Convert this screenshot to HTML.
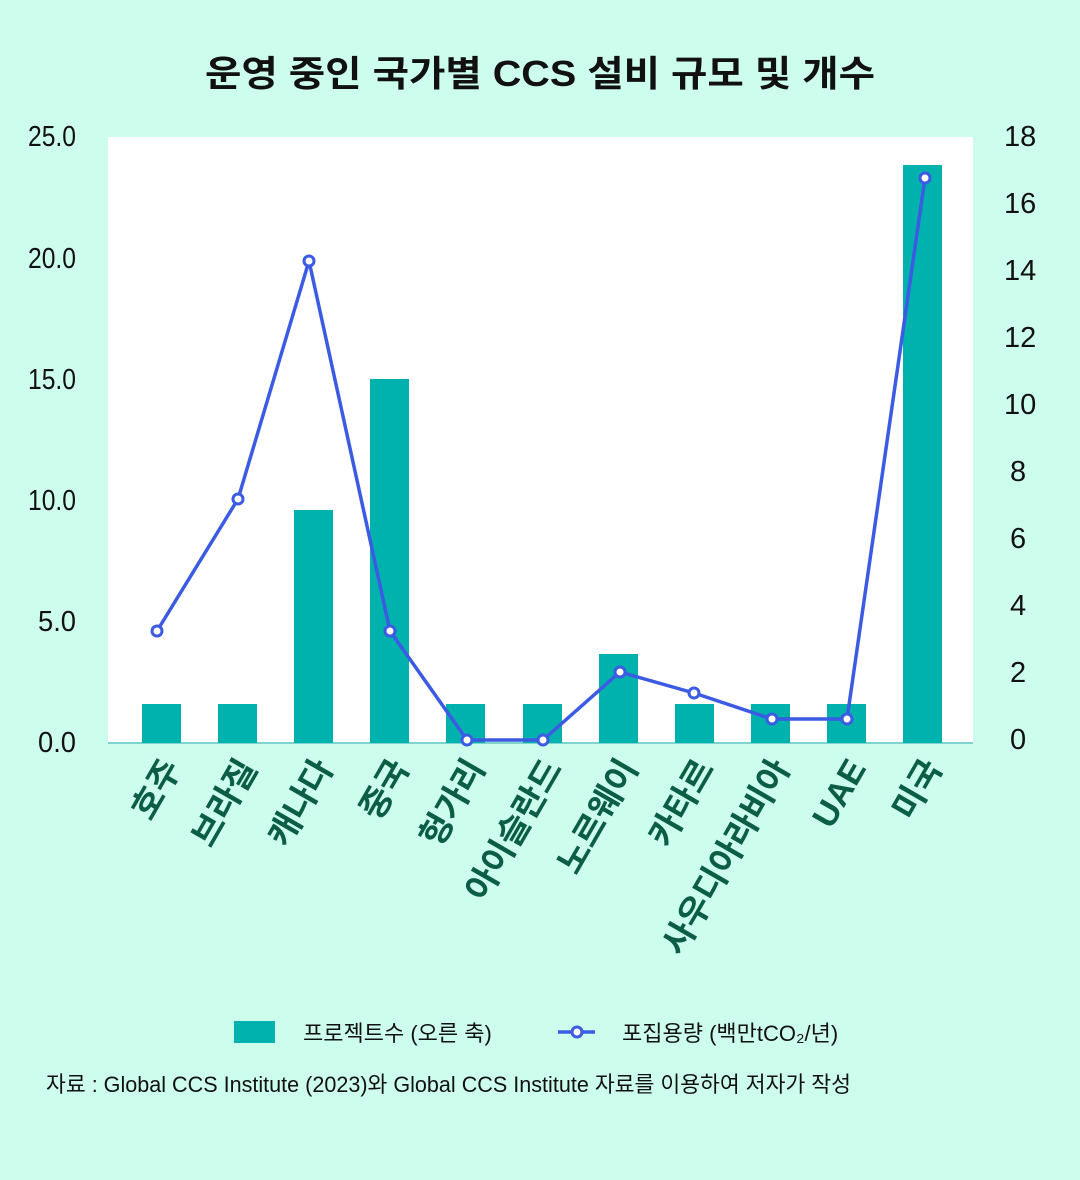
<!DOCTYPE html>
<html><head><meta charset="utf-8"><style>
html,body{margin:0;padding:0;background:#cdfded;}
svg{display:block;font-family:"Liberation Sans","Noto Sans CJK KR",sans-serif;}
</style></head><body>
<svg width="1080" height="1180" viewBox="0 0 1080 1180">
<rect width="1080" height="1180" fill="#cdfded"/>
<text x="540" y="86" text-anchor="middle" font-size="36" font-weight="bold" fill="#111" textLength="670" lengthAdjust="spacingAndGlyphs">운영 중인 국가별 CCS 설비 규모 및 개수</text>
<rect x="108" y="137" width="865" height="606" fill="#fff"/>
<line x1="108" y1="743" x2="973" y2="743" stroke="#7fd3d0" stroke-width="2"/>
<g font-size="29" fill="#111" text-anchor="end">
<text x="76" y="146" textLength="48" lengthAdjust="spacingAndGlyphs">25.0</text>
<text x="76" y="268" textLength="48" lengthAdjust="spacingAndGlyphs">20.0</text>
<text x="76" y="389" textLength="48" lengthAdjust="spacingAndGlyphs">15.0</text>
<text x="76" y="510" textLength="48" lengthAdjust="spacingAndGlyphs">10.0</text>
<text x="76" y="631" textLength="38" lengthAdjust="spacingAndGlyphs">5.0</text>
<text x="76" y="752" textLength="38" lengthAdjust="spacingAndGlyphs">0.0</text>
</g>
<g font-size="29" fill="#111" text-anchor="start">
<text x="1004" y="146">18</text><text x="1004" y="213">16</text><text x="1004" y="280">14</text>
<text x="1004" y="347">12</text><text x="1004" y="414">10</text><text x="1010" y="481">8</text>
<text x="1010" y="548">6</text><text x="1010" y="615">4</text><text x="1010" y="682">2</text>
<text x="1010" y="749">0</text>
</g>
<g fill="#00b2ae">
<rect x="142" y="704" width="39" height="39"/>
<rect x="218" y="704" width="39" height="39"/>
<rect x="294" y="510" width="39" height="233"/>
<rect x="370" y="379" width="39" height="364"/>
<rect x="446" y="704" width="39" height="39"/>
<rect x="523" y="704" width="39" height="39"/>
<rect x="599" y="654" width="39" height="89"/>
<rect x="675" y="704" width="39" height="39"/>
<rect x="751" y="704" width="39" height="39"/>
<rect x="827" y="704" width="39" height="39"/>
<rect x="903" y="165" width="39" height="578"/>
</g>
<polyline points="157,631 238,499 309,261 390,631 467,740 543,740 620,672 694,693 772,719 847,719 925,178" fill="none" stroke="#3b5be3" stroke-width="3.5"/>
<g fill="#fff" stroke="#3b5be3" stroke-width="3">
<circle cx="157" cy="631" r="5"/><circle cx="238" cy="499" r="5"/><circle cx="309" cy="261" r="5"/>
<circle cx="390" cy="631" r="5"/><circle cx="467" cy="740" r="5"/><circle cx="543" cy="740" r="5"/>
<circle cx="620" cy="672" r="5"/><circle cx="694" cy="693" r="5"/><circle cx="772" cy="719" r="5"/>
<circle cx="847" cy="719" r="5"/><circle cx="925" cy="178" r="5"/>
</g>
<g font-size="34" font-weight="bold" fill="#0b5e45" text-anchor="end">
<text transform="translate(182,768) rotate(-60)">호주</text>
<text transform="translate(258,768) rotate(-60)">브라질</text>
<text transform="translate(334,768) rotate(-60)">캐나다</text>
<text transform="translate(410,768) rotate(-60)">중국</text>
<text transform="translate(486,768) rotate(-60)">헝가리</text>
<text transform="translate(563,768) rotate(-60)">아이슬란드</text>
<text transform="translate(639,768) rotate(-60)">노르웨이</text>
<text transform="translate(715,768) rotate(-60)">카타르</text>
<text transform="translate(791,768) rotate(-60)">사우디아라비아</text>
<text transform="translate(867,768) rotate(-60)">UAE</text>
<text transform="translate(943,768) rotate(-60)">미국</text>
</g>
<rect x="234" y="1021" width="41" height="22" fill="#00b2ae"/>
<text x="303" y="1041" font-size="22" fill="#111">프로젝트수 (오른 축)</text>
<line x1="558" y1="1032" x2="595" y2="1032" stroke="#3b5be3" stroke-width="3.5"/>
<circle cx="577" cy="1032" r="5" fill="#fff" stroke="#3b5be3" stroke-width="3"/>
<text x="622" y="1041" font-size="22" fill="#111">포집용량 (백만tCO₂/년)</text>
<text x="46" y="1092" font-size="22" fill="#111" textLength="805" lengthAdjust="spacingAndGlyphs">자료 : Global CCS Institute (2023)와 Global CCS Institute 자료를 이용하여 저자가 작성</text>
</svg>
</body></html>
